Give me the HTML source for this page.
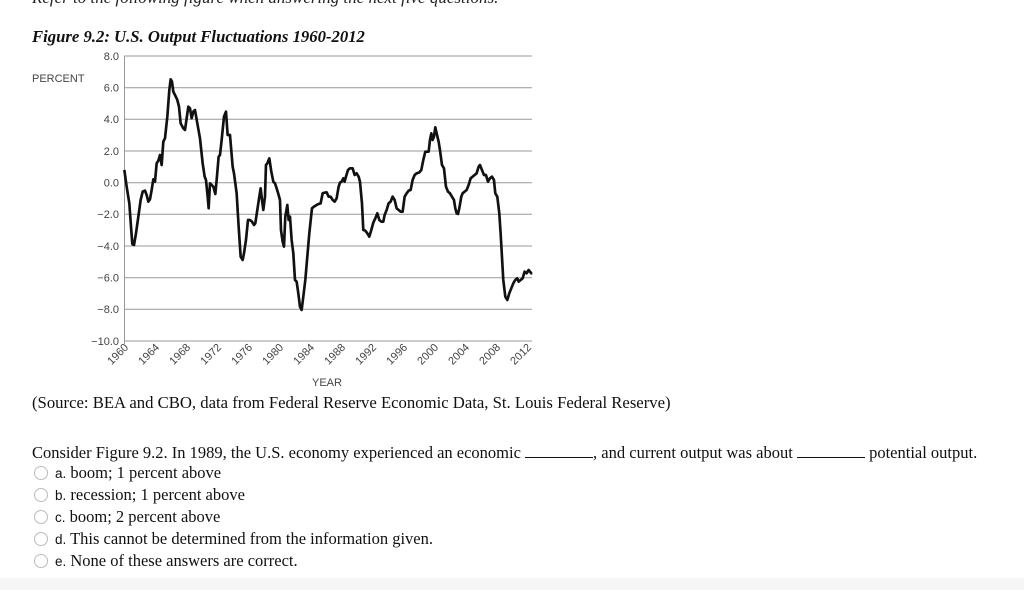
<!DOCTYPE html>
<html><head><meta charset="utf-8"><style>
body{margin:0;width:1024px;height:590px;background:#fff;position:relative;overflow:hidden;font-family:"Liberation Serif",serif;color:#111}
.a{position:absolute;white-space:nowrap}
.q{font-size:16.5px}
.r{position:absolute;left:34px;width:14px;height:14px;border:1px solid #bbb;border-radius:50%;box-sizing:border-box;background:#fff}
.l{font-family:"Liberation Sans",sans-serif;font-size:13.5px}
</style></head><body>
<div class="a" style="left:32px;top:-12px;font-size:17px;font-style:italic;color:#222">Refer to the following figure when answering the next five questions.</div>
<div class="a" style="left:32px;top:27px;font-size:16.7px;font-style:italic;font-weight:bold">Figure 9.2: U.S. Output Fluctuations 1960-2012</div>
<svg class="a" style="left:0;top:0" width="1024" height="430">
<g font-family="Liberation Sans, sans-serif" font-size="11" fill="#444">
<text x="32" y="82">PERCENT</text>
<g stroke="#999" stroke-width="1">
<line x1="124" y1="56" x2="532" y2="56"/><line x1="124" y1="87.7" x2="532" y2="87.7"/><line x1="124" y1="119.3" x2="532" y2="119.3"/><line x1="124" y1="151" x2="532" y2="151"/><line x1="124" y1="182.7" x2="532" y2="182.7"/><line x1="124" y1="214.3" x2="532" y2="214.3"/><line x1="124" y1="246" x2="532" y2="246"/><line x1="124" y1="277.7" x2="532" y2="277.7"/><line x1="124" y1="309.3" x2="532" y2="309.3"/><line x1="124" y1="341" x2="532" y2="341"/>
<line x1="124.5" y1="56" x2="124.5" y2="344"/>
</g>
<g text-anchor="end"><text x="119" y="60">8.0</text><text x="119" y="91.5">6.0</text><text x="119" y="123">4.0</text><text x="119" y="155">2.0</text><text x="119" y="186.5">0.0</text><text x="119" y="218">−2.0</text><text x="119" y="250">−4.0</text><text x="119" y="281.5">−6.0</text><text x="119" y="313">−8.0</text><text x="119" y="345">−10.0</text></g>
<g text-anchor="end">
<text transform="translate(129,348) rotate(-45)">1960</text><text transform="translate(160,348) rotate(-45)">1964</text><text transform="translate(191,348) rotate(-45)">1968</text><text transform="translate(222,348) rotate(-45)">1972</text><text transform="translate(253,348) rotate(-45)">1976</text><text transform="translate(284,348) rotate(-45)">1980</text><text transform="translate(315,348) rotate(-45)">1984</text><text transform="translate(346,348) rotate(-45)">1988</text><text transform="translate(377,348) rotate(-45)">1992</text><text transform="translate(408,348) rotate(-45)">1996</text><text transform="translate(439,348) rotate(-45)">2000</text><text transform="translate(470,348) rotate(-45)">2004</text><text transform="translate(501,348) rotate(-45)">2008</text><text transform="translate(532,348) rotate(-45)">2012</text>
</g>
<text x="312" y="386">YEAR</text>
</g>
<g transform="translate(80,40) scale(0.3333)">
<polyline fill="none" stroke="#111" stroke-width="8" stroke-linejoin="round" points="133,390 140,440 148,490 153,560 157,612 162,615 168,580 175,530 182,480 188,455 195,452 200,465 205,485 210,478 215,450 220,418 225,425 230,370 235,362 240,345 245,375 250,305 255,295 262,230 268,150 272,118 276,125 280,155 285,165 292,180 297,200 302,250 310,265 315,270 320,235 325,200 330,205 335,235 340,215 345,210 352,250 360,295 368,370 374,410 378,420 383,470 386,505 390,430 395,435 400,440 406,462 410,420 416,350 420,345 425,300 432,230 438,215 443,285 450,285 458,380 462,400 470,460 476,560 482,650 488,660 492,640 498,600 504,540 510,540 516,545 522,555 526,550 532,510 538,470 542,445 546,480 550,510 555,470 558,375 562,370 568,355 574,395 580,425 585,430 590,445 596,465 600,480 603,570 608,605 612,620 616,530 622,495 626,540 630,530 635,600 640,640 645,720 650,725 655,760 660,800 665,810 670,770 676,720 682,650 688,580 696,505 702,500 710,495 716,492 722,490 728,460 734,458 740,457 746,470 752,470 758,480 764,485 770,475 776,440 780,428 785,425 790,415 794,425 798,410 804,390 810,385 818,385 824,405 830,400 836,410 840,425 846,490 850,570 856,572 862,580 868,590 874,570 880,548 886,535 892,520 898,540 904,545 910,545 914,525 920,510 926,490 932,485 938,470 944,480 950,505 956,510 962,515 968,515 974,470 980,460 986,452 992,450 998,420 1004,405 1010,400 1018,397 1024,390 1030,360 1036,335 1040,335 1046,335 1050,300 1054,280 1058,300 1062,290 1066,262 1070,280 1076,305 1080,330 1086,375 1092,385 1098,440 1104,455 1110,460 1116,470 1122,480 1126,505 1130,520 1134,522 1138,505 1144,470 1148,460 1154,455 1160,450 1166,435 1172,415 1178,410 1184,405 1190,400 1196,380 1200,375 1206,390 1212,405 1218,405 1224,425 1230,415 1236,410 1242,420 1246,460 1252,470 1258,520 1262,580 1266,650 1270,720 1276,770 1282,780 1288,760 1294,745 1300,730 1306,720 1312,715 1316,725 1322,720 1328,715 1334,695 1340,700 1346,690 1350,695 1354,700 1357,700"/>
</g>
</svg>
<div class="a" style="left:32px;top:393px;font-size:16.7px">(Source: BEA and CBO, data from Federal Reserve Economic Data, St. Louis Federal Reserve)</div>
<div class="a q" style="left:32px;top:443px">Consider Figure 9.2. In 1989, the U.S. economy experienced an economic <span style="display:inline-block;width:68px;border-bottom:1px solid #111"></span>, and current output was about <span style="display:inline-block;width:68px;border-bottom:1px solid #111"></span> potential output.</div>
<div class="r" style="top:466px"></div><div class="a q" style="left:55px;top:463px"><span class="l">a.</span> boom; 1 percent above</div>
<div class="r" style="top:488px"></div><div class="a q" style="left:55px;top:485px"><span class="l">b.</span> recession; 1 percent above</div>
<div class="r" style="top:510px"></div><div class="a q" style="left:55px;top:507px"><span class="l">c.</span> boom; 2 percent above</div>
<div class="r" style="top:532px"></div><div class="a q" style="left:55px;top:529px"><span class="l">d.</span> This cannot be determined from the information given.</div>
<div class="r" style="top:554px"></div><div class="a q" style="left:55px;top:551px"><span class="l">e.</span> None of these answers are correct.</div>
<div class="a" style="left:0;top:578px;width:1024px;height:12px;background:#f6f6f6"></div>
</body></html>
